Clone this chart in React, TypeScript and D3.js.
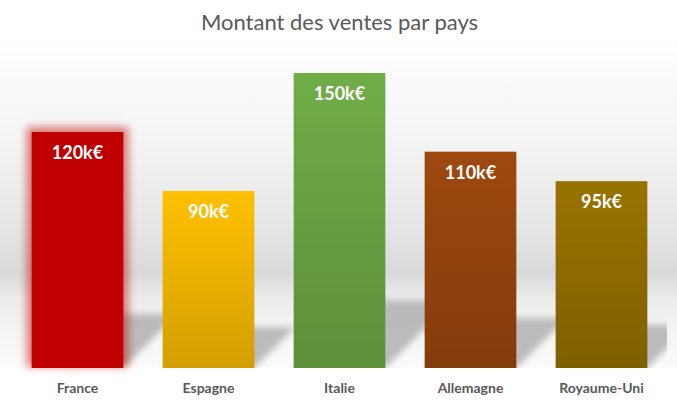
import React from 'react';
import * as d3 from 'd3';

const countries = ['France', 'Espagne', 'Italie', 'Allemagne', 'Royaume-Uni'];
const sales = [120, 90, 150, 110, 95];
const valueLabels = ['120k€', '90k€', '150k€', '110k€', '95k€'];
const topColors = ['#c00000', '#ffc000', '#70ad47', '#9e480e', '#997300'];
const bottomColors = ['#c00000', '#d39f00', '#5d8f3b', '#843c0c', '#7f6000'];

const W = 677;
const H = 402;
const margin = { top: 40, right: 10, bottom: 34, left: 12 };

const App: React.FC = () => {
  const x = d3.scaleBand<string>()
    .domain(countries)
    .range([margin.left, W - margin.right])
    .paddingInner(0.3)
    .paddingOuter(0.15);

  const bottom = H - margin.bottom;
  const y = d3.scaleLinear().domain([0, 150]).range([bottom, 73]);

  const font = 'Lato, "Open Sans", sans-serif';

  return (
    <svg width={W} height={H} style={{ position: 'absolute', left: 0, top: 0, fontFamily: font }}>
      <defs>
        <linearGradient id="bg" x1="0" y1="0" x2="0" y2="1">
          <stop offset="0" stopColor="#ffffff" />
          <stop offset="0.33" stopColor="#f3f3f3" />
          <stop offset="0.58" stopColor="#e5e5e5" />
          <stop offset="0.71" stopColor="#d9d9d9" />
          <stop offset="0.79" stopColor="#ececec" />
          <stop offset="0.92" stopColor="#f6f6f6" />
          <stop offset="1" stopColor="#fbfbfb" />
        </linearGradient>
        {countries.map((c, i) => (
          <linearGradient key={c} id={`bar${i}`} x1="0" y1="0" x2="0" y2="1">
            <stop offset="0" stopColor={topColors[i]} />
            <stop offset="1" stopColor={bottomColors[i]} />
          </linearGradient>
        ))}
        <filter id="blur" x="-50%" y="-50%" width="200%" height="200%">
          <feGaussianBlur stdDeviation="3" />
        </filter>
        <filter id="glow" x="-50%" y="-50%" width="200%" height="200%">
          <feGaussianBlur stdDeviation="4" />
        </filter>
        <clipPath id="plot">
          <rect x={margin.left} y={margin.top} width={W - margin.left - margin.right} height={bottom - margin.top} />
        </clipPath>
      </defs>

      <rect x={0} y={0} width={W} height={H} fill="#ffffff" />
      <rect x={0} y={margin.top} width={W} height={bottom - margin.top} fill="url(#bg)" />

      <text x={W / 2 + 1} y={30} textAnchor="middle" fontSize={22} fill="#595959">
        Montant des ventes par pays
      </text>

      <g clipPath="url(#plot)">
        {countries.map((c, i) => {
          const x0 = x(c)!;
          const x1 = x0 + x.bandwidth();
          const h = (bottom - y(sales[i])) * 0.23;
          const dx = h * 1.0;
          const pts = [
            [x0, bottom], [x1, bottom], [x1 + dx, bottom - h], [x0 + dx, bottom - h],
          ].map(p => p.join(',')).join(' ');
          return <polygon key={c} points={pts} fill="#b5b5b5" opacity={0.9} filter="url(#blur)" />;
        })}
      </g>

      <rect
        x={x('France')! - 5}
        y={y(sales[0]) - 5}
        width={x.bandwidth() + 10}
        height={bottom - y(sales[0]) + 4}
        fill="#c00000"
        opacity={0.5}
        filter="url(#glow)"
      />

      {countries.map((c, i) => (
        <g key={c}>
          <rect
            x={x(c)}
            y={y(sales[i])}
            width={x.bandwidth()}
            height={bottom - y(sales[i])}
            fill={`url(#bar${i})`}
          />
          <text
            x={x(c)! + x.bandwidth() / 2}
            y={y(sales[i]) + 27}
            textAnchor="middle"
            fontSize={18}
            fontWeight="bold"
            fill="#ffffff"
          >
            {valueLabels[i]}
          </text>
          <text
            x={x(c)! + x.bandwidth() / 2}
            y={393}
            textAnchor="middle"
            fontSize={14}
            fontWeight="bold"
            fill="#595959"
          >
            {c}
          </text>
        </g>
      ))}
    </svg>
  );
};

export default App;
